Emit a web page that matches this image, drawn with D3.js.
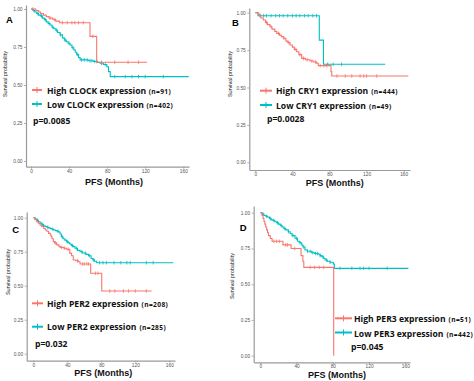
<!DOCTYPE html>
<html><head><meta charset="utf-8">
<script src="https://cdn.jsdelivr.net/npm/d3@7"></script>
<style>
html,body{margin:0;padding:0;background:#fff;}
svg{display:block;}
</style></head>
<body>
<svg id="chart" width="474" height="381"></svg>
<script>
// ---------------- DATA ----------------
const xTicks = [0, 40, 80, 120, 160];
const yTicks = [0, 0.25, 0.5, 0.75, 1];
const panelLetters = ["A", "B", "C", "D"];
const highLabels = ["High CLOCK expression", "High CRY1 expression", "High PER2 expression", "High PER3 expression"];
const lowLabels = ["Low CLOCK expression", "Low CRY1 expression", "Low PER2 expression", "Low PER3 expression"];
const highN = ["(n=91)", "(n=444)", "(n=208)", "(n=51)"];
const lowN = ["(n=402)", "(n=49)", "(n=285)", "(n=442)"];
const pValues = ["p=0.0085", "p=0.0028", "p=0.032", "p=0.045"];
const xTitle = "PFS (Months)";
const yTitle = "Survival probability";

// step points: [months, survival after the step]
const highA = [[0,1],[5,0.99],[8,0.98],[10,0.97],[13,0.96],[16,0.95],[19,0.94],[23,0.93],[26,0.92],[30,0.91],[62,0.82],[69,0.65]];
const highAEnd = 122;
const highACens = [2,20,25,33,38,43,46,50,55,65,74,88,102,113];
const lowA = [[0,1],[2,0.99],[4,0.98],[6,0.97],[8,0.96],[10,0.955],[12,0.94],[14,0.93],[16,0.915],[18,0.905],[20,0.895],[22,0.88],[24,0.87],[26,0.86],[28,0.845],[30.5,0.83],[33,0.81],[35,0.795],[37,0.785],[39,0.775],[41,0.763],[43,0.745],[45,0.73],[46.5,0.715],[48,0.70],[50,0.68],[51.6,0.665],[60,0.66],[65.6,0.655],[70,0.648],[72.6,0.643],[76,0.635],[79.7,0.62],[81.4,0.588],[83.2,0.555]];
const lowAEnd = 165.6;
const lowACens = [3,7,11,15,19,23,27,31,36,40,44,49,53,56,59,62,64,67,69,74,78,88,99,106,113,120,139];

const highB = [[0,1],[3,0.985],[6,0.965],[8.6,0.951],[11,0.935],[13,0.92],[15.8,0.906],[18,0.89],[21,0.875],[23.1,0.862],[26,0.85],[28,0.84],[30.2,0.829],[33,0.81],[35,0.8],[37.4,0.784],[40,0.77],[42,0.755],[44.6,0.739],[47,0.72],[50,0.695],[54,0.685],[59,0.677],[63,0.67],[66.2,0.662],[67.9,0.646],[81.6,0.606],[82.4,0.577]];
const highBEnd = 165;
const highBCens = [5,12,17,25,31,36,43,48,52,56,61,65,70,74,77,88,97,104,113,117,120,131];
const lowB = [[0,1],[3,0.98],[69,0.817],[73.5,0.655]];
const lowBEnd = 140;
const lowBCens = [5,9,12,17,22,26,30,35,40,44,48,53,57,62,66,78,84,93];

const highC = [[0,1],[2,0.985],[4,0.97],[6,0.959],[8,0.945],[10,0.935],[12,0.922],[14,0.91],[16,0.9],[18,0.885],[20,0.873],[21,0.86],[22,0.845],[23.5,0.824],[25,0.815],[27.5,0.8],[30,0.79],[31.5,0.782],[36,0.775],[39.3,0.768],[43,0.738],[45,0.72],[47,0.689],[50,0.683],[53,0.676],[55,0.66],[67.5,0.591],[80.5,0.461]];
const highCEnd = 139.3;
const highCCens = [26,33,37,41,52,58,60,63,65,73,76,90,96,106,112,120,133];
const lowC = [[0,1],[2,0.99],[4,0.98],[6,0.97],[8,0.96],[10,0.95],[12,0.94],[14,0.935],[16,0.93],[18,0.925],[20,0.92],[22,0.915],[24,0.91],[26,0.905],[28,0.9],[30,0.895],[31.5,0.88],[33,0.86],[35,0.845],[37,0.835],[39,0.824],[41,0.815],[43,0.805],[45,0.795],[47,0.787],[49,0.775],[52,0.76],[55,0.75],[58,0.74],[62,0.73],[65,0.72],[68,0.7],[70,0.69],[72,0.68],[74.6,0.669]];
const lowCEnd = 164.7;
const lowCCens = [5,11,17,23,29,34,40,46,51,57,61,66,71,78,82,86,95,103,110,114,133,141];

const highD = [[0,1],[2,0.98],[3,0.96],[4,0.94],[5,0.92],[6,0.9],[7,0.88],[8,0.86],[9,0.84],[11,0.82],[13,0.8],[25,0.775],[34,0.75],[45,0.7],[47,0.66],[48,0.618],[81,0]];
const highDEnd = 81;
const highDCens = [15,18,21,28,30,38,55,60,65,70];
const lowD = [[0,1],[2,0.99],[4,0.98],[6,0.975],[8,0.97],[10,0.96],[12,0.95],[14,0.945],[16,0.937],[18,0.93],[20,0.92],[22,0.91],[24,0.9],[26,0.89],[28,0.88],[30.9,0.867],[33,0.855],[35,0.84],[38.3,0.821],[41,0.8],[43,0.79],[45.7,0.774],[47,0.76],[49.3,0.739],[52,0.73],[56.7,0.72],[60,0.715],[64,0.709],[66,0.7],[67.8,0.692],[70,0.68],[71.4,0.669],[74,0.66],[76.9,0.653],[80.6,0.641],[81.7,0.611]];
const lowDEnd = 163.4;
const lowDCens = [3,7,11,15,19,23,27,31,36,40,44,48,52,55,58,61,63,66,69,73,77,88,101,110,114,120,140];

const highSeries = [highA, highB, highC, highD];
const highEnds = [highAEnd, highBEnd, highCEnd, highDEnd];
const highCens = [highACens, highBCens, highCCens, highDCens];
const lowSeries = [lowA, lowB, lowC, lowD];
const lowEnds = [lowAEnd, lowBEnd, lowCEnd, lowDEnd];
const lowCens = [lowACens, lowBCens, lowCCens, lowDCens];

// ---------------- LAYOUT ----------------
const layout = [
  {xz:31, x160:183.3, y1:9, y0:161, axL:26, axB:166.7, axR:189, axT:5, letter:[6,23.3], ylab:[6.5,74], xlab:[114,184.5], leg:[32,42], legY:[90,104], txtX:47, txtY:[93.5,107.5], nGap:[2.5,2.5], p:[33,124]},
  {xz:255.3, x160:403.7, y1:12.7, y0:162.3, axL:249.3, axB:170, axR:410, axT:8, letter:[232,26], ylab:[232,74], xlab:[334.7,186], leg:[260,272], legY:[90.7,105], txtX:276, txtY:[94,108.5], nGap:[3,3], p:[267,122]},
  {xz:33.3, x160:169.3, y1:217.7, y0:353.7, axL:26.7, axB:360.7, axR:175, axT:212, letter:[12.3,233.3], ylab:[10,272], xlab:[103.3,375.5], leg:[32,43], legY:[303.3,326.7], txtX:47, txtY:[306.5,330], nGap:[3,3], p:[35,346.5]},
  {xz:260.3, x160:405.3, y1:212.7, y0:355.7, axL:253.7, axB:362.3, axR:410, axT:206, letter:[239.7,231], ylab:[234,276], xlab:[337,378.3], leg:[335,352], legY:[318.3,332.5], txtX:354, txtY:[322.3,336.5], nGap:[3,3], p:[351,350]}
];

const RED = "#F8766D", TEAL = "#00BFC4";
const AXIS = "#9a9a9a", TICKTXT = "#555";
const FONT = "'Liberation Sans', Arial, sans-serif";
const BOLD = "'Open Sans', 'Liberation Sans', Arial, sans-serif";

const svg = d3.select("#chart");

function survAt(steps, t) {
  let s = steps[0][1];
  for (const st of steps) { if (st[0] <= t) s = st[1]; }
  return s;
}

layout.forEach((L, i) => {
  const g = svg.append("g");
  const pxPerMonth = (L.x160 - L.xz) / 160;
  const x = d3.scaleLinear()
    .domain([(L.axL - L.xz) / pxPerMonth, (L.axR - L.xz) / pxPerMonth])
    .range([L.axL, L.axR]);
  const pxPerUnit = (L.y0 - L.y1);
  const y = d3.scaleLinear()
    .domain([(L.y0 - L.axB) / pxPerUnit, (L.y0 - L.axT) / pxPerUnit])
    .range([L.axB, L.axT]);

  // axes
  const xAxis = d3.axisBottom(x).tickValues(xTicks).tickSize(2).tickSizeOuter(0).tickPadding(0.5).tickFormat(d3.format("d"));
  const gx = g.append("g").attr("transform", `translate(0,${L.axB})`).call(xAxis);
  const yAxis = d3.axisLeft(y).tickValues(yTicks).tickSize(2).tickSizeOuter(0).tickPadding(1.5).tickFormat(d3.format(".2f"));
  const gy = g.append("g").attr("transform", `translate(${L.axL},0)`).call(yAxis);
  [gx, gy].forEach(a => {
    a.select(".domain").attr("stroke", AXIS).attr("stroke-width", 1.2);
    a.selectAll(".tick line").attr("stroke", AXIS).attr("stroke-width", 0.8);
    a.selectAll(".tick text").attr("fill", TICKTXT).attr("font-size", 4.8).attr("font-family", FONT);
  });

  // curves
  const line = d3.line().x(d => x(d[0])).y(d => y(d[1])).curve(d3.curveStepAfter);
  const drawCurve = (steps, end, cens, color) => {
    const pts = steps.concat([[end, steps[steps.length - 1][1]]]);
    g.append("path").attr("d", line(pts)).attr("fill", "none")
      .attr("stroke", color).attr("stroke-width", 1.1);
    g.selectAll(null).data(cens).enter().append("line")
      .attr("x1", d => x(d)).attr("x2", d => x(d))
      .attr("y1", d => y(survAt(steps, d)) - 1.8)
      .attr("y2", d => y(survAt(steps, d)) + 1.8)
      .attr("stroke", color).attr("stroke-width", 0.8);
  };
  drawCurve(lowSeries[i], lowEnds[i], lowCens[i], TEAL);
  drawCurve(highSeries[i], highEnds[i], highCens[i], RED);

  // panel letter
  g.append("text").attr("x", L.letter[0]).attr("y", L.letter[1])
    .attr("font-family", FONT).attr("font-weight", "bold").attr("font-size", 9.5)
    .attr("fill", "#000").text(panelLetters[i]);

  // y title
  g.append("text").attr("transform", `translate(${L.ylab[0]},${L.ylab[1]}) rotate(-90)`)
    .attr("text-anchor", "middle").attr("font-family", FONT).attr("font-size", 5.5)
    .attr("fill", "#222").text(yTitle);

  // x title
  g.append("text").attr("x", L.xlab[0]).attr("y", L.xlab[1]).attr("text-anchor", "middle")
    .attr("font-family", FONT).attr("font-weight", "bold").attr("font-size", 9)
    .attr("fill", "#111").text(xTitle);

  // legend
  const legItems = [
    {label: highLabels[i], n: highN[i], color: RED},
    {label: lowLabels[i], n: lowN[i], color: TEAL}
  ];
  legItems.forEach((it, k) => {
    const ly = L.legY[k];
    g.append("line").attr("x1", L.leg[0]).attr("x2", L.leg[1]).attr("y1", ly).attr("y2", ly)
      .attr("stroke", it.color).attr("stroke-width", 2);
    const cx = (L.leg[0] + L.leg[1]) / 2;
    g.append("line").attr("x1", cx).attr("x2", cx).attr("y1", ly - 3).attr("y2", ly + 3)
      .attr("stroke", it.color).attr("stroke-width", 1);
    const t = g.append("text").attr("x", L.txtX).attr("y", L.txtY[k])
      .attr("font-family", BOLD).attr("font-weight", "bold").attr("fill", "#111");
    t.append("tspan").attr("font-size", 8.6).text(it.label);
    t.append("tspan").attr("dx", L.nGap[k]).attr("font-size", 6.6).attr("letter-spacing", 0.4).text(it.n);
  });

  g.append("text").attr("x", L.p[0]).attr("y", L.p[1])
    .attr("font-family", BOLD).attr("font-weight", "bold").attr("font-size", 8.6)
    .attr("fill", "#111").text(pValues[i]);
});
</script>
</body></html>
